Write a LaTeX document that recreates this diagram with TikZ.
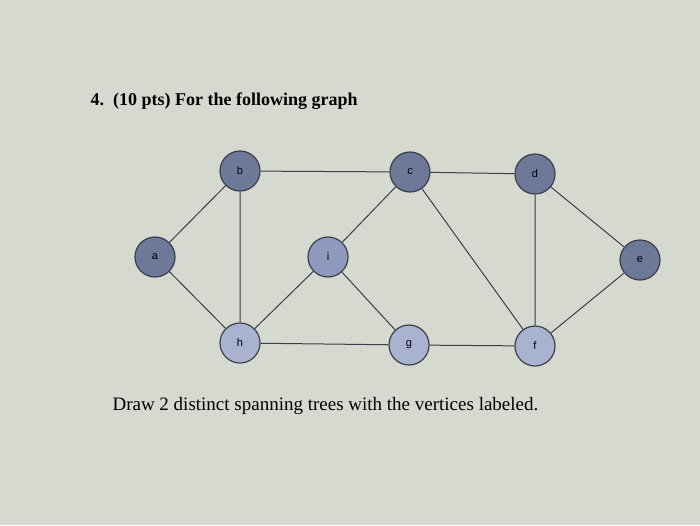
\documentclass[tikz,border=0pt]{standalone}
\usepackage{fontspec}
\setmainfont{Liberation Serif}
\newfontfamily\lblfont{Liberation Sans}
\definecolor{bgc}{HTML}{D6D9CF}
\definecolor{darkv}{HTML}{6E7898}
\definecolor{midv}{HTML}{8D9ABD}
\definecolor{lightv}{HTML}{A9B3CF}
\definecolor{edgec}{HTML}{3A3F48}
\begin{document}
\begin{tikzpicture}[x=1pt,y=-1pt,
  vtx/.style={circle,draw=edgec,line width=1.2pt,minimum size=40pt,inner sep=0pt,font=\lblfont\fontsize{11}{13}\selectfont},
  dv/.style={vtx,fill=darkv},
  mv/.style={vtx,fill=midv},
  lv/.style={vtx,fill=lightv},
  edge/.style={draw=edgec,line width=1pt}]
\fill[bgc] (0,0) rectangle (700,525);
\useasboundingbox (0,0) rectangle (700,525);
\node[anchor=west,font=\bfseries\fontsize{18}{22}\selectfont] (title) at (87,101) {4.\ \ (10 pts) For the following graph};
\node[anchor=west,font=\fontsize{19}{23}\selectfont] (task) at (109,406) {Draw 2 distinct spanning trees with the vertices labeled.};
\node[dv] (b) at (240,171) {b};
\node[dv] (c) at (410,172) {c};
\node[dv] (d) at (535,174) {d};
\node[dv] (a) at (155,257) {a};
\node[mv] (i) at (328,257) {i};
\node[dv] (e) at (640,260) {e};
\node[lv] (h) at (240,343) {h};
\node[lv] (g) at (409,345) {g};
\node[lv] (f) at (535,346) {f};
\path[edge] (a)--(b) (a)--(h) (b)--(h) (b)--(c) (c)--(d) (c)--(i) (c)--(f)
  (i)--(h) (i)--(g) (h)--(g) (g)--(f) (d)--(f) (d)--(e) (e)--(f);
\end{tikzpicture}
\end{document}
